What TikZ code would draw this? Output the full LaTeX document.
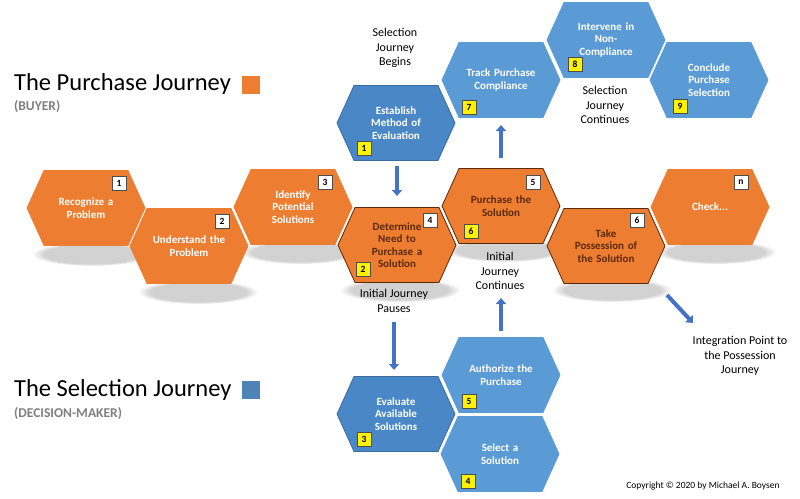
\documentclass[tikz,border=0pt]{standalone}
\usepackage{fontspec}
\setmainfont{Carlito}
\usetikzlibrary{arrows.meta,fadings}
\definecolor{org}{HTML}{ED7D31}
\definecolor{blu}{HTML}{5B9BD5}
\definecolor{dblu}{HTML}{4A87C6}
\definecolor{arr}{HTML}{4472C4}
\definecolor{gtxt}{HTML}{7F7F7F}
\definecolor{brn}{HTML}{5A2A0A}
\tikzset{
 htext/.style={font=\bfseries\fontsize{11}{12.5}\selectfont,align=center,text width=90pt,inner sep=0pt},
 nbox/.style={draw=black!70,fill=white,font=\bfseries\fontsize{9.5}{10}\selectfont,minimum size=14pt,inner sep=0pt},
 ybox/.style={draw=black!70,fill=yellow,font=\bfseries\fontsize{9.5}{10}\selectfont,minimum size=14pt,inner sep=0pt},
 lbl/.style={font=\fontsize{12}{14.5}\selectfont,align=center},
 barrow/.style={arr,line width=4pt,-{Triangle[width=10pt,length=6pt]}},
 shadow/.style={fill=gray!35,path fading=circle with fuzzy edge 20 percent},
}
% #1 name, #2 x, #3 y, #4 fill, #5 stroke, #6 text colour, #7 text
\newcommand\hexa[7]{%
 \path[fill=#4,draw=#5,line width=0.8pt] (#2-59,#3) -- (#2-42,#3-37.5) -- (#2+42,#3-37.5) -- (#2+59,#3) -- (#2+42,#3+37.5) -- (#2-42,#3+37.5) -- cycle;
 \node[htext,text=#6] (#1) at (#2,#3) {#7};}
\newcommand\hshadow[2]{\fill[shadow] (#1,#2) ellipse [x radius=60pt,y radius=12pt];}
\begin{document}
\begin{tikzpicture}[x=1pt,y=-1pt]
\useasboundingbox (0,0) rectangle (800,498);
% shadows
\hshadow{92}{254}\hshadow{198}{292}\hshadow{300}{252}\hshadow{400}{290}\hshadow{505}{250}\hshadow{612}{290}\hshadow{716}{252}
% orange hexes
\hexa{o1}{86}{208}{org}{org}{white}{Recognize a\\Problem}
\hexa{o3}{293}{207}{org}{org}{white}{Identify\\Potential\\Solutions}
\hexa{o2}{189}{246}{org}{org}{white}{Understand the\\Problem}
\hexa{o5}{501}{206}{org}{brn}{brn}{Purchase the\\Solution}
\hexa{o4}{397}{245}{org}{brn}{brn}{Determine\\Need to\\Purchase a\\Solution}
\hexa{o6}{606}{246}{org}{brn}{brn}{Take\\Possession of\\the Solution}
\hexa{on}{710}{207}{org}{org}{white}{Check...}
% blue hexes
\hexa{b1}{396}{123}{dblu}{dblu!80!black}{white}{Establish\\Method of\\Evaluation}
\hexa{b7}{501}{80}{blu}{blu}{white}{Track Purchase\\Compliance}
\hexa{b8}{606}{40}{blu}{blu}{white}{Intervene in\\Non-\\Compliance}
\hexa{b9}{709}{80}{blu}{blu}{white}{Conclude\\Purchase\\Selection}
\hexa{b3}{396}{414}{dblu}{dblu!80!black}{white}{Evaluate\\Available\\Solutions}
\hexa{b5}{501}{375}{blu}{blu}{white}{Authorize the\\Purchase}
\hexa{b4}{500}{454}{blu}{blu}{white}{Select a\\Solution}
% number boxes
\node[nbox] (n1) at (119,183) {1};
\node[nbox] (n2) at (222,221) {2};
\node[nbox] (n3) at (325,182) {3};
\node[nbox] (n4) at (430,220) {4};
\node[nbox] (n5) at (533,182) {5};
\node[nbox] (n6) at (637,220) {6};
\node[nbox] (nn) at (741,182) {n};
\node[ybox] (y2) at (363,269) {2};
\node[ybox] (y6) at (471,231) {6};
\node[ybox] (y1) at (364,148) {1};
\node[ybox] (y7) at (469,107) {7};
\node[ybox] (y8) at (575,64) {8};
\node[ybox] (y9) at (680,106) {9};
\node[ybox] (y3) at (364,439) {3};
\node[ybox] (y5) at (469,401) {5};
\node[ybox] (y4) at (468,481) {4};
% labels
\node[lbl] (sjb) at (395,48) {Selection\\Journey\\Begins};
\node[lbl] (sjc) at (605,105) {Selection\\Journey\\Continues};
\node[lbl] (ijc) at (500,271) {Initial\\Journey\\Continues};
\node[lbl] (ijp) at (394,301) {Initial Journey\\Pauses};
\node[lbl] (ipj) at (740,356) {Integration Point to\\the Possession\\Journey};
\node[font=\fontsize{9.5}{11}\selectfont] (copy) at (703,486) {Copyright © 2020 by Michael A. Boysen};
% titles
\node[anchor=west,font=\fontsize{24.5}{28}\selectfont,inner sep=0pt] (t1) at (14,84) {The Purchase Journey};
\node[fill=org,minimum size=18pt,inner sep=0pt] (s1) at (251,85) {};
\node[anchor=west,font=\bfseries\fontsize{13.5}{16}\selectfont,text=gtxt,inner sep=0pt] (u1) at (14,107) {(BUYER)};
\node[anchor=west,font=\fontsize{24.5}{28}\selectfont,inner sep=0pt] (t2) at (14,390) {The Selection Journey};
\node[fill=blu!85!black,minimum size=18pt,inner sep=0pt] (s2) at (251,390) {};
\node[anchor=west,font=\bfseries\fontsize{13.5}{16}\selectfont,text=gtxt,inner sep=0pt] (u2) at (14,414) {(DECISION-MAKER)};
% arrows
\coordinate (a1s) at (397,166); \coordinate (a1e) at (397,196);
\coordinate (a2s) at (501,158); \coordinate (a2e) at (501,125);
\coordinate (a3s) at (394,322); \coordinate (a3e) at (394,370);
\coordinate (a4s) at (501,331); \coordinate (a4e) at (501,298);
\coordinate (a5s) at (667,295); \coordinate (a5e) at (693,323);
\draw[barrow] (a1s) -- (a1e);
\draw[barrow] (a2s) -- (a2e);
\draw[barrow] (a3s) -- (a3e);
\draw[barrow] (a4s) -- (a4e);
\draw[barrow] (a5s) -- (a5e);
\end{tikzpicture}
\end{document}
